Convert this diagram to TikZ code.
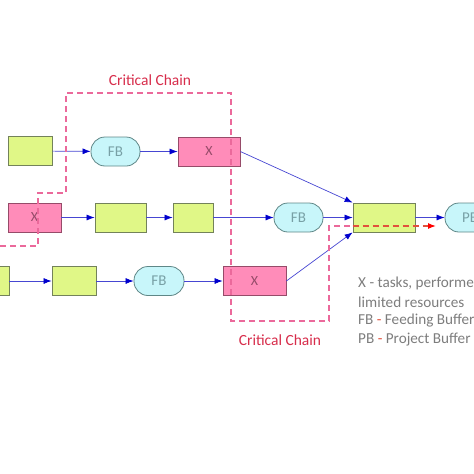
\documentclass[tikz,border=0pt]{standalone}
\usepackage{fontspec}
\setmainfont{Carlito}
\usetikzlibrary{arrows.meta}
\definecolor{taskgreen}{RGB}{224,247,135}
\definecolor{taskborder}{RGB}{115,130,90}
\definecolor{xpink}{RGB}{255,140,185}
\definecolor{xborder}{RGB}{150,75,105}
\definecolor{fbcyan}{RGB}{200,246,250}
\definecolor{fbborder}{RGB}{95,135,135}
\definecolor{fbtext}{RGB}{120,160,165}
\definecolor{arrowblue}{RGB}{0,0,205}
\definecolor{linkblue}{RGB}{70,70,210}
\definecolor{chainpink}{RGB}{235,105,155}
\definecolor{chainred}{RGB}{215,45,75}
\definecolor{legendgray}{RGB}{125,125,125}
\definecolor{dashred}{RGB}{225,80,60}
\begin{document}
\begin{tikzpicture}[x=1pt,y=-1pt,
  task/.style={draw=taskborder, fill=taskgreen, minimum height=29pt, inner sep=0pt, line width=0.8pt},
  xtask/.style={draw=xborder, fill=xpink, minimum height=29pt, inner sep=0pt, line width=0.8pt,
    text=xborder, font=\fontsize{14}{16}\selectfont},
  buffer/.style={draw=fbborder, fill=fbcyan, rounded corners=14pt, minimum height=29pt, inner sep=0pt,
    line width=0.8pt, text=fbtext, font=\fontsize{15}{17}\selectfont},
  link/.style={draw=linkblue, line width=0.7pt, -{Latex[length=8pt,width=6pt,color=arrowblue]}},
  chain/.style={draw=chainpink, line width=1.2pt, dash pattern=on 6pt off 4pt},
  chainlabel/.style={text=chainred, font=\fontsize{15.5}{17}\selectfont},
  legend/.style={anchor=west, text=legendgray, font=\fontsize{15.2}{17}\selectfont, inner sep=0pt},
]
\useasboundingbox (0,0) rectangle (474,474);
\clip (0,0) rectangle (474,474);

% row 1
\node[task, minimum width=44pt] (a1) at (30,151) {};
\node[buffer, minimum width=49pt] (fb1) at (115.5,151.5) {FB};
\node[xtask, minimum width=62pt] (x1) at (209,151.5) {X};
% row 2
\node[xtask, minimum width=53pt] (x2) at (34.5,217.5) {X};
\node[task, minimum width=51pt] (b2) at (120.5,217.5) {};
\node[task, minimum width=40pt] (c2) at (193,217.5) {};
\node[buffer, minimum width=49pt] (fb2) at (298.5,217.5) {FB};
\node[task, minimum width=62pt] (fin) at (384,217.5) {};
\node[buffer, minimum width=50pt] (pb) at (470,217.5) {PB};
% row 3
\node[task, minimum width=44pt] (a3) at (-13,281) {};
\node[task, minimum width=44pt] (b3) at (74,281) {};
\node[buffer, minimum width=50pt] (fb3) at (159,281) {FB};
\node[xtask, minimum width=63pt] (x3) at (254.5,281) {X};

% connectors
\draw[link] (a1) -- (fb1);
\draw[link] (fb1) -- (x1);
\draw[link] (x1.east) -- (fin.north west);
\draw[link] (x2) -- (b2);
\draw[link] (b2) -- (c2);
\draw[link] (c2) -- (fb2);
\draw[link] (fb2) -- (fin);
\draw[link] (fin) -- (pb);
\draw[link] (a3) -- (b3);
\draw[link] (b3) -- (fb3);
\draw[link] (fb3) -- (x3);
\draw[link] (x3.east) -- (fin.south west);

% critical chain outline
\coordinate (k0) at (0,246);
\coordinate (k1) at (38,246);
\coordinate (k2) at (38,193);
\coordinate (k3) at (66,193);
\coordinate (k4) at (66,93);
\coordinate (k5) at (231,93);
\coordinate (k6) at (231,321);
\coordinate (k7) at (329,321);
\coordinate (k8) at (329,226);
\coordinate (k9) at (436,226);
\draw[chain] (k0) -- (k1) -- (k2) -- (k3) -- (k4) -- (k5) -- (k6) -- (k7) -- (k8) -- (fin.south west |- k8);
\draw[draw=dashred, line width=1.2pt, dash pattern=on 6pt off 4pt, -{Latex[length=8pt,width=6pt,color=red]}]
  (fin.south west |- k8) -- (k9);

\node[chainlabel] (cc1) at (150,80) {Critical Chain};
\node[chainlabel] (cc2) at (280,340) {Critical Chain};

% legend
\node[legend] (l1) at (358,283) {X - tasks, performed};
\node[legend] (l2) at (358,302) {limited resources};
\node[legend] (l3) at (358,321) {FB {\color{dashred}-} Feeding Buffer};
\node[legend] (l4) at (358,340) {PB {\color{dashred}-} Project Buffer};
\end{tikzpicture}
\end{document}
